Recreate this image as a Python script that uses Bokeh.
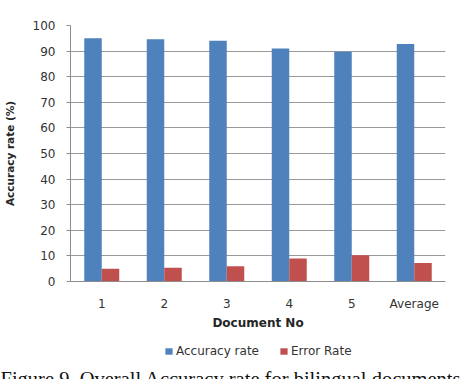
from bokeh.plotting import figure
from bokeh.layouts import column
from bokeh.models import ColumnDataSource, FactorRange, Range1d, Legend, LegendItem, Label
from bokeh.transform import dodge
from bokeh.embed import file_html
from bokeh.resources import INLINE

documents = ["1", "2", "3", "4", "5", "Average"]
accuracy_rate = [95.0, 94.6, 94.0, 91.0, 89.7, 92.8]
error_rate = [5.0, 5.4, 6.0, 9.0, 10.3, 7.2]
y_ticks = [0, 10, 20, 30, 40, 50, 60, 70, 80, 90, 100]
series_names = ["Accuracy rate", "Error Rate"]
series_colors = ["#4F81BD", "#C0504D"]
caption_text = "Figure 9. Overall Accuracy rate for bilingual documents"

src = ColumnDataSource(dict(doc=documents, acc=accuracy_rate, err=error_rate))

p = figure(width=466, height=332, output_backend="svg", toolbar_location=None,
           x_range=FactorRange(factors=documents, range_padding=0),
           y_range=Range1d(0, 100),
           min_border_left=65, min_border_right=21, min_border_top=25, min_border_bottom=49)
p.outline_line_color = None
p.frame_align = False

r1 = p.vbar(x=dodge("doc", -0.14, range=p.x_range), top="acc", width=0.28, source=src,
            fill_color=series_colors[0], line_color=None)
r2 = p.vbar(x=dodge("doc", 0.14, range=p.x_range), top="err", width=0.28, source=src,
            fill_color=series_colors[1], line_color=None)

p.xgrid.grid_line_color = None
p.ygrid.grid_line_color = "#9a9a9a"
p.ygrid.grid_line_width = 1
p.yaxis.ticker = y_ticks

for ax in (p.xaxis[0], p.yaxis[0]):
    ax.axis_line_color = "#8c8c8c"
    ax.major_tick_line_color = "#8c8c8c"
    ax.minor_tick_line_color = None
    ax.major_label_text_font = "DejaVu Sans"
    ax.major_label_text_font_size = "12px"
    ax.major_label_text_color = "#333333"
    ax.axis_label_text_font = "DejaVu Sans"
    ax.axis_label_text_font_style = "bold"
    ax.axis_label_text_color = "#262626"

p.xaxis.axis_label_text_font_size = "12px"
p.yaxis.axis_label_text_font_size = "10.5px"
p.yaxis.major_tick_in = 0
p.yaxis.major_tick_out = 4
p.xaxis.major_tick_in = 0
p.xaxis.major_tick_out = 0
p.xaxis.major_label_standoff = 15
p.xaxis.axis_label_standoff = 2
p.yaxis.major_label_standoff = 11
p.yaxis.axis_label_standoff = 14
p.xaxis.axis_label = "Document No"
p.yaxis.axis_label = "Accuracy rate (%)"

# bottom strip: legend and figure caption (its renderers are hidden, only the legend shows them)
p2 = figure(width=466, height=47, output_backend="svg", toolbar_location=None,
            x_range=FactorRange(factors=documents, range_padding=0),
            y_range=Range1d(-47, 0), min_border=0)
p2.frame_align = False
p2.outline_line_color = None
p2.axis.visible = False
p2.grid.grid_line_color = None
l1 = p2.vbar(x="doc", top="acc", width=0.28, source=src,
             fill_color=series_colors[0], line_color=None, visible=False)
l2 = p2.vbar(x="doc", top="err", width=0.28, source=src,
             fill_color=series_colors[1], line_color=None, visible=False)

legend = Legend(items=[LegendItem(label=series_names[0], renderers=[l1], index=0),
                       LegendItem(label=series_names[1], renderers=[l2], index=0)],
                orientation="horizontal", location=(164, 21),
                label_text_font="DejaVu Sans", label_text_font_size="12px",
                label_text_color="#333333", glyph_width=9, glyph_height=8,
                spacing=20, label_standoff=3, padding=0, margin=0,
                inactive_fill_alpha=0,
                border_line_color=None, background_fill_alpha=0)
p2.add_layout(legend)

caption = Label(x=0, y=-46, text=caption_text,
                text_font="Liberation Serif", text_font_size="20.5px", text_color="#111111",
                text_baseline="alphabetic")
p2.add_layout(caption)

layout = column(p, p2, spacing=0)
open("out.html", "w").write(file_html(layout, INLINE))
